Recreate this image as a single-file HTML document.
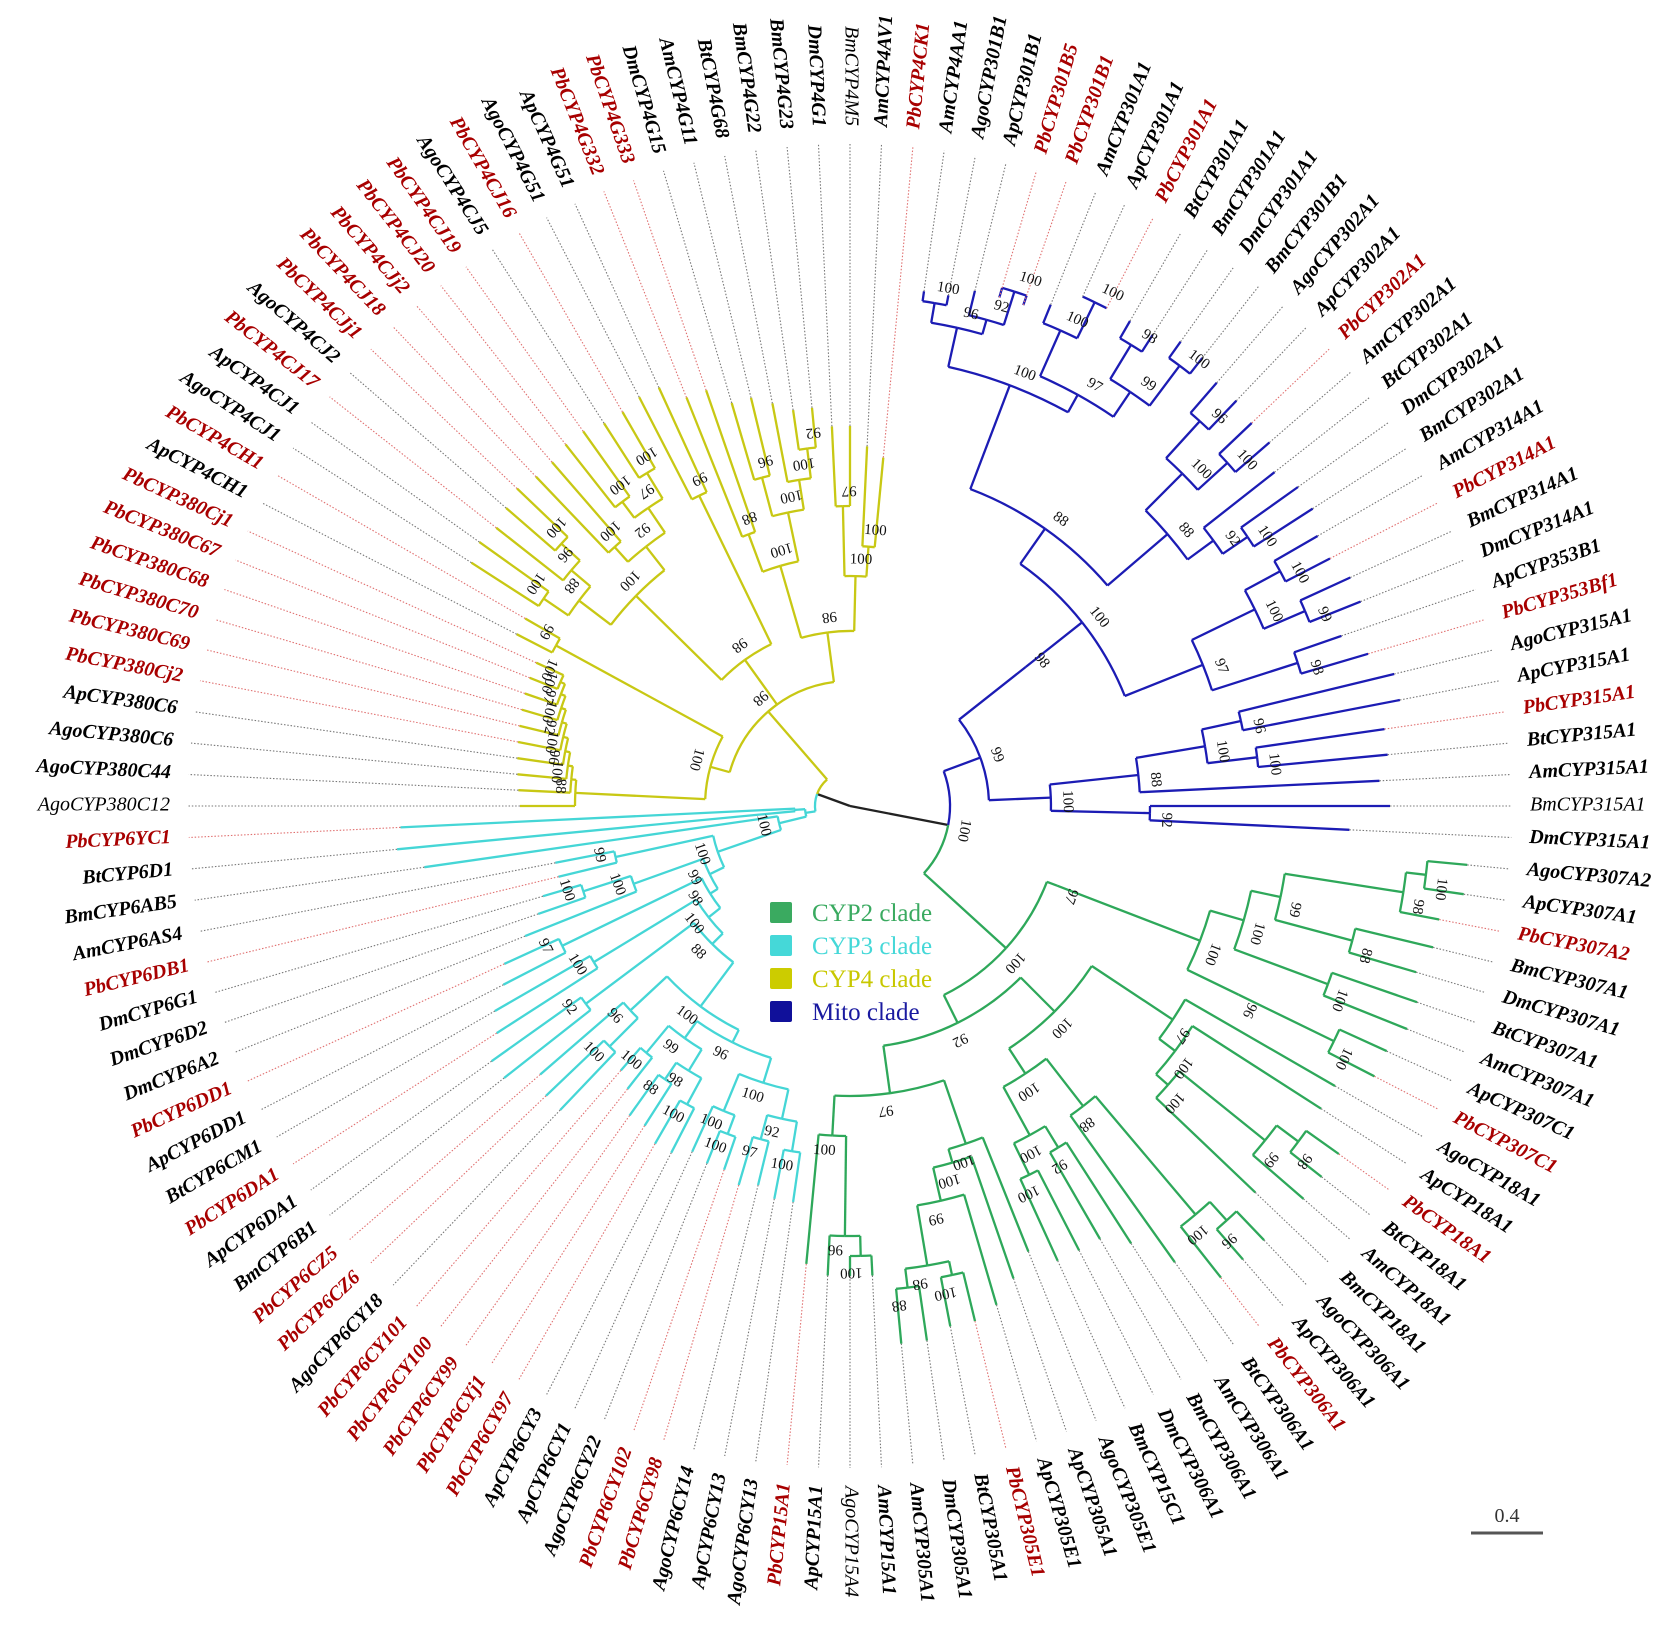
<!DOCTYPE html>
<html><head><meta charset="utf-8">
<style>
html,body{margin:0;padding:0;background:#fff;}
svg{display:block;}
</style></head>
<body>
<svg id="s" width="1674" height="1639" xmlns="http://www.w3.org/2000/svg" font-family="'Liberation Serif', serif">
<rect width="1674" height="1639" fill="#fff"/>
<g id="tree"></g>
<g id="labels"></g>
<g>
<rect x="770" y="902" width="22" height="21" rx="2" fill="#3aaa60"/>
<rect x="770" y="935" width="22" height="21" rx="2" fill="#45d8d8"/>
<rect x="770" y="968" width="22" height="21" rx="2" fill="#cccc00"/>
<rect x="770" y="1001" width="22" height="21" rx="2" fill="#10109a"/>
<text x="812" y="921" font-size="25" fill="#3aaa60">CYP2 clade</text>
<text x="812" y="954" font-size="25" fill="#45d8d8">CYP3 clade</text>
<text x="812" y="987" font-size="25" fill="#c8c800">CYP4 clade</text>
<text x="812" y="1020" font-size="25" fill="#1a1aa0">Mito clade</text>
</g>
<line x1="1471" y1="1533" x2="1543" y2="1533" stroke="#555" stroke-width="3"/>
<text x="1507" y="1522" font-size="20" text-anchor="middle" fill="#333">0.4</text>
</svg>
<script>
(function(){
var CX=850,CY=806,N=132,A0=98.18,LR=680,DR=662;
var names=("AgoCYP6CY13 ApCYP6CY13 AgoCYP6CY14 PbCYP6CY98 PbCYP6CY102 AgoCYP6CY22 ApCYP6CY1 ApCYP6CY3 PbCYP6CY97 PbCYP6CYj1 PbCYP6CY99 PbCYP6CY100 PbCYP6CY101 AgoCYP6CY18 PbCYP6CZ6 PbCYP6CZ5 BmCYP6B1 ApCYP6DA1 PbCYP6DA1 BtCYP6CM1 ApCYP6DD1 PbCYP6DD1 DmCYP6A2 DmCYP6D2 DmCYP6G1 PbCYP6DB1 AmCYP6AS4 BmCYP6AB5 BtCYP6D1 PbCYP6YC1 "+
"AgoCYP380C12 AgoCYP380C44 AgoCYP380C6 ApCYP380C6 PbCYP380Cj2 PbCYP380C69 PbCYP380C70 PbCYP380C68 PbCYP380C67 PbCYP380Cj1 ApCYP4CH1 PbCYP4CH1 AgoCYP4CJ1 ApCYP4CJ1 PbCYP4CJ17 AgoCYP4CJ2 PbCYP4CJj1 PbCYP4CJ18 PbCYP4CJj2 PbCYP4CJ20 PbCYP4CJ19 AgoCYP4CJ5 PbCYP4CJ16 AgoCYP4G51 ApCYP4G51 PbCYP4G332 PbCYP4G333 DmCYP4G15 AmCYP4G11 BtCYP4G68 BmCYP4G22 BmCYP4G23 DmCYP4G1 BmCYP4M5 AmCYP4AV1 PbCYP4CK1 "+
"AmCYP4AA1 AgoCYP301B1 ApCYP301B1 PbCYP301B5 PbCYP301B1 AmCYP301A1 ApCYP301A1 PbCYP301A1 BtCYP301A1 BmCYP301A1 DmCYP301A1 BmCYP301B1 AgoCYP302A1 ApCYP302A1 PbCYP302A1 AmCYP302A1 BtCYP302A1 DmCYP302A1 BmCYP302A1 AmCYP314A1 PbCYP314A1 BmCYP314A1 DmCYP314A1 ApCYP353B1 PbCYP353Bf1 AgoCYP315A1 ApCYP315A1 PbCYP315A1 BtCYP315A1 AmCYP315A1 BmCYP315A1 DmCYP315A1 "+
"AgoCYP307A2 ApCYP307A1 PbCYP307A2 BmCYP307A1 DmCYP307A1 BtCYP307A1 AmCYP307A1 ApCYP307C1 PbCYP307C1 AgoCYP18A1 ApCYP18A1 PbCYP18A1 BtCYP18A1 AmCYP18A1 BmCYP18A1 AgoCYP306A1 ApCYP306A1 PbCYP306A1 BtCYP306A1 AmCYP306A1 BmCYP306A1 DmCYP306A1 BmCYP15C1 AgoCYP305E1 ApCYP305A1 ApCYP305E1 PbCYP305E1 BtCYP305A1 DmCYP305A1 AmCYP305A1 AmCYP15A1 AgoCYP15A4 ApCYP15A1 PbCYP15A1").split(" ");
var plain={"AgoCYP380C12":1,"BmCYP4M5":1,"BmCYP315A1":1,"AgoCYP15A4":1};
var YEL="#c8c814",CYA="#45d6d6",GRN="#2ea85a",BLU="#1c1cb4",BLK="#222";
var CYg=[264,[290,[320,[350,400,400],[345,390,395]],[330,[350,385,385],380]],[285,[310,[340,390,390],[330,380,380]],[320,360,350]]];
var DA=[300,[340,420,420],410];
var U=[250,CYg,DA],V=[195,U,[330,440,440]],W=[180,V,[300,420,410]],Z=[165,W,[320,390,380]];
var Y=[156,Z,[230,350,[280,330,320]]],X=[140,Y,[240,300,300]];
var CYP3={col:CYA,t:[45,[73,X,430],[55,455,450]]};
var G380=[275,330,[280,332,[285,334,[290,336,[295,338,[300,340,[305,342,[310,344,[315,345,345]]]]]]]]];
var CJ=[300,[340,[370,450,455],[365,450,[390,455,460]]],[330,[350,455,455],[360,[380,460,460],[390,455,455]]]];
var G4=[175,[250,[290,440,440],[300,[340,420,420],[330,410,[360,400,400]]]],[230,[300,380,380],[260,360,350]]];
var CYP4={col:YEL,t:[125,[145,G380,[335,375,375]],[180,CJ,[345,460,460]],G4]};
var gA=[450,[490,[510,520,520],[505,530,[540,530,530]]],[470,[520,540,[560,560,560]],[500,[540,560,560],[550,570,570]]]];
var gB=[418,[470,[520,560,560],[510,555,555]],[450,540,[480,550,550]]];
var gC=[380,[450,[490,540,540],[495,550,550]],[470,520,540]];
var gD=[201,[290,[360,[400,560,560],[410,540,540]],530],[300,540,500]];
var MITO={col:BLU,t:[139,[224,[296,[339,gA,gB],gC]],gD]};
var s307=[410,[440,[560,[580,620,620],600],[520,600,590]],[510,600,600]];
var Up=[222,[375,s307,[432,[538,590,590]]]];
var g18=[387,560,[407,560,[423,[533,[560,600,600],600],560]]];
var g306=[320,[380,[535,[560,600,600],600],560],[375,[400,520,500],[410,500,500]]];
var g305=[357,480,[371,500,[405,520,[466,[480,530,530],[485,540,540]]]]];
var g15=[330,[430,[450,470,470],470],460];
var Lo=[242,[290,g18,g306],[290,g305,g15]];
var CYP2={col:GRN,t:[211,Up,Lo]};
var ROOT={col:BLK,t:[0,{col:BLK,t:[35,CYP3,CYP4]},{col:BLK,t:[100,MITO,CYP2]}]};
var k=0;
function lay(n,col){
  if(n&&n.t!==undefined){return lay(n.t,n.col);}
  if(typeof n==="number"){var nd={leaf:1,k:k,a:A0+k*360/N,r:n,col:col};k++;return nd;}
  var ch=[];for(var i=1;i<n.length;i++){var c=n[i];ch.push(lay(c,(c&&c.col)?c.col:col));}
  return {r:n[0],ch:ch,a:(ch[0].a+ch[ch.length-1].a)/2,col:col};
}
var root=lay(ROOT.t,BLK);
function P(r,a){var t=a*Math.PI/180;return [CX+r*Math.cos(t),CY+r*Math.sin(t)];}
var out=[],nums=[];
var vals=["100","100","99","98","100","88","100","96","100","92","100","97"];
var vi=0;
function f(v){return v.toFixed(1);}
function draw(n){
  if(n.leaf)return;
  if(n.r>60){
    var q0=P(n.r+16,n.a+1.2);var an=((n.a%360)+360)%360;if(an>180)an-=360;
    var rot=Math.cos(n.a*Math.PI/180)>=0?an:an+180;
    nums.push('<text x="'+f(q0[0])+'" y="'+f(q0[1])+'" transform="rotate('+(rot+90).toFixed(1)+' '+f(q0[0])+' '+f(q0[1])+')" text-anchor="middle" dominant-baseline="middle" font-size="15" fill="#111">'+vals[vi++%vals.length]+'</text>');
  }
  n.ch.forEach(function(c){
    var p1=P(n.r,c.a),p2=P(c.r,c.a);
    out.push('<line x1="'+f(p1[0])+'" y1="'+f(p1[1])+'" x2="'+f(p2[0])+'" y2="'+f(p2[1])+'" stroke="'+c.col+'" stroke-width="2.3"/>');
    if(n.r>0&&Math.abs(c.a-n.a)>0.01){
      var q=P(n.r,n.a);var sw=c.a>n.a?1:0;var la=Math.abs(c.a-n.a)>180?1:0;
      out.push('<path d="M'+f(q[0])+' '+f(q[1])+' A'+n.r+' '+n.r+' 0 '+la+' '+sw+' '+f(p1[0])+' '+f(p1[1])+'" fill="none" stroke="'+c.col+'" stroke-width="2.3"/>');
    }
    if(c.leaf){
      var d1=P(c.r,c.a),d2=P(DR,c.a);var red=names[c.k].indexOf("Pb")===0;
      out.push('<line x1="'+f(d1[0])+'" y1="'+f(d1[1])+'" x2="'+f(d2[0])+'" y2="'+f(d2[1])+'" stroke="'+(red?"#e07070":"#777")+'" stroke-width="1.1" stroke-dasharray="1.5 1.8"/>');
    }
    draw(c);
  });
}
draw(root);
document.getElementById("tree").innerHTML=out.join("")+nums.join("");
var lab=[];
for(var i=0;i<N;i++){
  var a=A0+i*360/N;var an=((a%360)+360)%360;if(an>180)an-=360;
  var p=P(LR,a);var nm=names[i];var red=nm.indexOf("Pb")===0;
  var right=Math.cos(a*Math.PI/180)>=0;
  var rot=right?an:an+180;
  lab.push('<text x="'+f(p[0])+'" y="'+f(p[1])+'" transform="rotate('+rot.toFixed(2)+' '+f(p[0])+' '+f(p[1])+')" text-anchor="'+(right?"start":"end")+'" dominant-baseline="middle" font-size="20" font-style="italic" font-weight="'+(plain[nm]?"normal":"bold")+'" fill="'+(red?"#a80000":"#000")+'">'+nm+'</text>');
}
document.getElementById("labels").innerHTML=lab.join("");
})();
</script>
</body></html>
